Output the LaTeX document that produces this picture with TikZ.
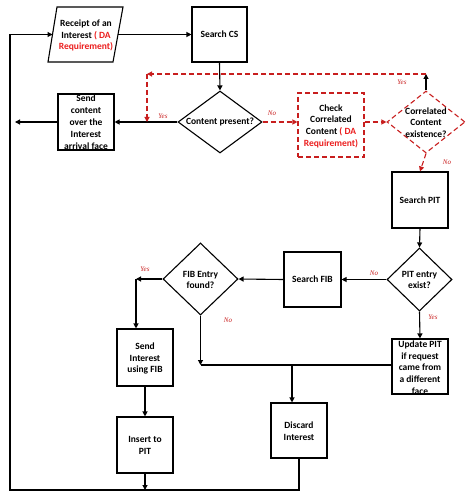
\documentclass[tikz,border=0pt]{standalone}
\usepackage{fontspec}
\setmainfont{Carlito}
\newfontfamily\lblfont{Liberation Serif}
\usetikzlibrary{shapes.geometric,arrows.meta}
\definecolor{dred}{RGB}{200,30,30}
\definecolor{tred}{RGB}{235,30,30}
\begin{document}
\begin{tikzpicture}[x=1pt,y=-1pt, line width=1.1pt,
  >={Triangle[length=5pt,width=5pt]},
  box/.style={draw, rectangle, minimum width=56pt, minimum height=56pt, inner sep=0pt},
  dbox/.style={draw, diamond, inner sep=0pt},
  txt/.style={font=\bfseries\fontsize{9.5}{11.7}\selectfont, align=center, inner sep=0pt},
  lbl/.style={font=\lblfont\itshape\fontsize{7}{8}\selectfont, text=dred, inner sep=0pt},
  rdash/.style={draw=dred, dash pattern=on 5pt off 3pt},
  ]
\useasboundingbox (0,0) rectangle (474,500);

% parallelogram
\coordinate (rTL) at (57,7);
\coordinate (rTR) at (123,7);
\coordinate (rBR) at (113,62);
\coordinate (rBL) at (48,62);
\coordinate (rcL) at (52.5,34.5);
\coordinate (rcR) at (118,34.5);
\draw (rTL) -- (rTR) -- (rBR) -- (rBL) -- cycle;
\node[txt] (rcpt) at (86,35.5) {Receipt of an\\Interest \textcolor{tred}{( DA}\\\textcolor{tred}{Requirement)}};

\node[box, minimum width=55pt, minimum height=55pt] (cs) at (219.5,34.5) {};
\node[txt] (csT) at (219.5,34.5) {Search CS};

\node[dbox, minimum width=84pt, minimum height=62pt] (cp) at (220,122) {};
\node[txt] (cpT) at (220,122) {Content present?};

\node[box] (send) at (86,122) {};
\node[txt, font=\bfseries\fontsize{9.5}{12}\selectfont] (sendT) at (86,122.5) {Send\\content\\over the\\Interest\\arrival face};

\node[box, rdash, minimum width=66pt, minimum height=64pt] (chk) at (331,125) {};
\node[txt] (chkT) at (331,126) {Check\\Correlated\\Content \textcolor{tred}{( DA}\\\textcolor{tred}{Requirement)}};

\node[dbox, rdash, minimum width=78pt, minimum height=62pt] (cc) at (426,122) {};
\node[txt] (ccT) at (426,122.5) {Correlated\\Content\\existence?};

\node[box] (pit) at (420,200) {};
\node[txt] (pitT) at (420,200) {Search PIT};

\node[dbox, minimum width=65pt, minimum height=63pt] (pitd) at (419.5,279.5) {};
\node[txt] (pitdT) at (419.5,280) {PIT entry\\exist?};

\node[box, minimum width=57pt, minimum height=55pt] (fib) at (312.5,279.5) {};
\node[txt] (fibT) at (312.5,279.5) {Search FIB};

\node[dbox, minimum width=75pt, minimum height=72pt] (fibd) at (200.5,279) {};
\node[txt] (fibdT) at (200.5,280) {FIB Entry\\found?};

\node[box, minimum height=57pt] (sint) at (145,357.5) {};
\node[txt] (sintT) at (145,358.5) {Send\\Interest\\using FIB};

\node[box] (ins) at (145,445) {};
\node[txt] (insT) at (145,445.5) {Insert to\\PIT};

\node[box, minimum height=55pt] (upd) at (420,366.5) {};
\node[txt, font=\bfseries\fontsize{9.5}{11.7}\selectfont] (updT) at (420,367.5) {Update PIT\\if request\\came from\\a different\\face};

\node[box, minimum height=55pt] (disc) at (299,430.5) {};
\node[txt] (discT) at (299,431) {Discard\\Interest};

% coordinates
\coordinate (lt) at (10,34.5);
\coordinate (lb) at (10,490);
\coordinate (bd) at (299,490);
\coordinate (sendL) at (15,122);
\coordinate (ccup) at (426,74);
\coordinate (dl) at (147,74);
\coordinate (dd) at (147,122);
\coordinate (yl) at (136,279);
\coordinate (fn) at (200.5,365);
\coordinate (dj) at (292,365);

% connectors
\draw (disc.south) -- (bd) -- (lb) -- (lt);
\draw[->] (lt) -- (rcL);
\draw[->] (rcR) -- (cs.west);
\draw[->] (cs.south) -- (cp.north);
\draw[->] (cp.west) -- (send.east);
\draw[->] (send.west) -- (sendL);
\draw[->, rdash] (cp.east) -- (cp.east -| chk.west);
\draw[->, rdash] (chk.east |- cc.west) -- (cc.west);
\draw[->] (cc.north) -- (ccup);
\draw[->, rdash] (ccup) -- (dl);
\draw[->, rdash] (dl) -- (dd);
\draw[->, rdash] (cc.south) -- (pit.north);
\draw[->] (pit.south) -- (pitd.north);
\draw[->] (pitd.west) -- (fib.east);
\draw[->] (fib.west) -- (fibd.east);
\draw[->] (fibd.west) -- (yl);
\draw[->] (yl) -- (yl |- sint.north);
\draw[->] (sint.south) -- (ins.north);
\draw[->] (ins.south) -- (ins.south |- lb);
\draw[->] (fibd.south) -- (fn);
\draw (fn) -- (fn -| upd.west);
\draw[->] (dj) -- (dj |- disc.north);
\draw[->] (pitd.south) -- (upd.north);

% labels
\node[lbl] (y1) at (163,116) {Yes};
\node[lbl] (y2) at (402,82) {Yes};
\node[lbl] (n1) at (272,113) {No};
\node[lbl] (n2) at (447,162) {No};
\node[lbl] (n3) at (374,273) {No};
\node[lbl] (y3) at (145,269) {Yes};
\node[lbl] (n4) at (228,320) {No};
\node[lbl] (y4) at (433,317) {Yes};
\end{tikzpicture}
\end{document}
